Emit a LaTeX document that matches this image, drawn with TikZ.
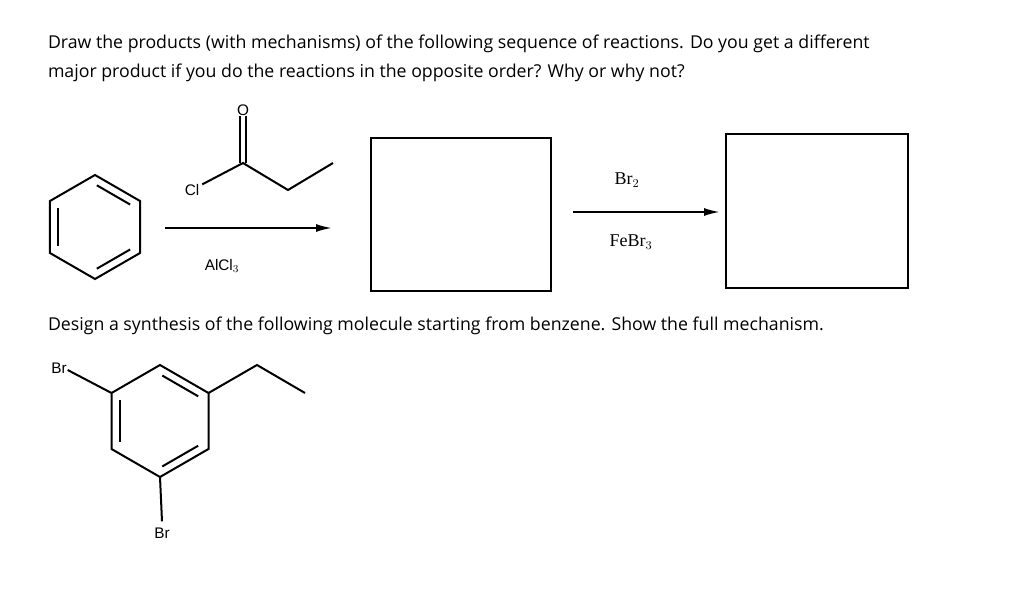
\documentclass[tikz,border=0pt]{standalone}
\usepackage{fontspec}
\usetikzlibrary{calc,arrows.meta}
\setmainfont{Open Sans}
\newfontfamily\helv{Liberation Sans}
\newfontfamily\tms{Liberation Serif}
\begin{document}
\begin{tikzpicture}[x=0.75pt,y=-0.75pt,line width=1.5pt,
  bond/.style={line width=1.5pt},
  qtext/.style={anchor=west,inner sep=0pt,font=\fontsize{13.3}{15}\selectfont},
  atom/.style={inner sep=0pt,font=\helv\fontsize{11.5}{13}\selectfont},
  reag/.style={inner sep=0pt,font=\tms\fontsize{13.5}{15}\selectfont},
  boxst/.style={draw,line width=1.2pt},
  rarrow/.style={line width=1.5pt,-{Latex[length=12pt,width=6pt]}}]
\useasboundingbox (0,0) rectangle (1024,606);
\node[qtext] (q1) at (47,44) {Draw the products (with mechanisms) of the following sequence of reactions. Do you get a different};
\node[qtext] (q2) at (47,73) {major product if you do the reactions in the opposite order? Why or why not?};
\node[qtext] (q3) at (47,326) {Design a synthesis of the following molecule starting from benzene. Show the full mechanism.};
% benzene
\foreach \i in {0,...,5} \coordinate (b\i) at ({95+52*cos(90+60*\i)},{227-52*sin(90+60*\i)});
\draw[bond,line join=miter] (b0)--(b1)--(b2)--(b3)--(b4)--(b5)--cycle;
\foreach \a/\b in {b1/b2,b3/b4,b5/b0}
  \draw[bond] ($(\a)!0.13!(\b)!6pt!90:(\b)$) -- ($(\b)!0.13!(\a)!6pt!-90:(\a)$);
% acyl chloride
\node[atom] (cl) at (192,190) {Cl};
\node[atom] (o) at (243,110) {O};
\coordinate (c1) at (243,163);
\coordinate (c2) at (288,190);
\coordinate (c3) at (333,163);
\draw[bond] (cl.north east) ++(2,1) -- (c1) -- (c2) -- (c3);
\draw[bond] ([xshift=-2.3pt]c1) -- ([xshift=-2.3pt]o.south);
\draw[bond] ([xshift=2.3pt]c1) -- ([xshift=2.3pt]o.south);
\coordinate (a1s) at (165,228);
\coordinate (a1e) at (332,228);
\draw[rarrow] (a1s) -- (a1e);
\node[atom] (alcl) at (222,266) {AlCl$_3$};
\node[boxst,minimum width=135pt,minimum height=114.75pt] (box1) at (461,214.5) {};
\coordinate (a2s) at (573,212);
\coordinate (a2e) at (720,212);
\draw[rarrow] (a2s) -- (a2e);
\node[reag] (br2) at (627,180) {Br$_2$};
\node[reag] (febr) at (631,242) {FeBr$_3$};
\node[boxst,minimum width=136.5pt,minimum height=115.5pt] (box2) at (817,211) {};
% target
\foreach \i in {0,...,5} \coordinate (t\i) at ({160+56*cos(90+60*\i)},{421-56*sin(90+60*\i)});
\draw[bond,line join=miter] (t0)--(t1)--(t2)--(t3)--(t4)--(t5)--cycle;
\foreach \a/\b in {t1/t2,t3/t4,t5/t0}
  \draw[bond] ($(\a)!0.13!(\b)!6pt!90:(\b)$) -- ($(\b)!0.13!(\a)!6pt!-90:(\a)$);
\node[atom] (br3) at (59,368) {Br};
\node[atom] (br4) at (162,533) {Br};
\draw[bond] (br3.east) ++(0,2) -- (t1);
\draw[bond] (t3) -- ([yshift=4pt]br4.north);
\coordinate (e1) at (257,365);
\coordinate (e2) at (305,393);
\draw[bond] (t5) -- (e1) -- (e2);
\end{tikzpicture}
\end{document}
